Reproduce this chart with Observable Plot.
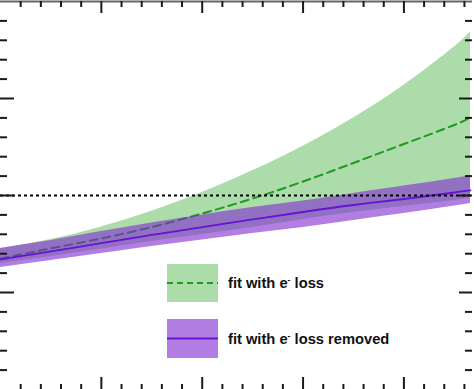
<!DOCTYPE html>
<html>
<head>
<meta charset="utf-8">
<script src="https://cdn.jsdelivr.net/npm/d3@7"></script>
<script src="https://cdn.jsdelivr.net/npm/@observablehq/plot@0.6"></script>
<style>
  html, body { margin: 0; padding: 0; background: #fff; }
  #wrap { position: relative; width: 474px; height: 389px; overflow: hidden; }
  #wrap svg { display: block; }
  .leg { position: absolute; font-family: "Liberation Sans", Arial, Helvetica, sans-serif; font-weight: bold; font-size: 14.7px; color: #111; white-space: nowrap; line-height: 1; }
  .leg sup { font-size: 0.6em; vertical-align: 0.55em; }
</style>
</head>
<body>
<div id="wrap"></div>
<script>
// x positions of the sampled curves
const xs = [0, 0.5, 1, 1.5, 2, 2.5, 3, 3.5, 4, 4.5, 4.66];
// fit with e- loss (green): central value and band
const greenMid = [1.351, 1.454, 1.557, 1.675, 1.814, 1.969, 2.144, 2.335, 2.531, 2.727, 2.809];
const greenHi  = [1.454, 1.546, 1.676, 1.837, 2.030, 2.254, 2.508, 2.799, 3.137, 3.532, 3.691];
const greenLo  = [1.299, 1.371, 1.448, 1.526, 1.598, 1.670, 1.753, 1.825, 1.887, 1.948, 1.979];
// fit with e- loss removed (purple)
const purpleMid = [1.340, 1.423, 1.510, 1.593, 1.675, 1.753, 1.830, 1.902, 1.964, 2.031, 2.052];
const purpleHi  = [1.454, 1.536, 1.629, 1.716, 1.799, 1.876, 1.943, 2.021, 2.098, 2.175, 2.206];
const purpleLo  = [1.258, 1.330, 1.402, 1.474, 1.541, 1.608, 1.670, 1.742, 1.814, 1.892, 1.918];
// reference level
const refLevel = [2];
// tick positions
const xMinorTicks = [0.2,0.4,0.6,0.8,1.2,1.4,1.6,1.8,2.2,2.4,2.6,2.8,3.2,3.4,3.6,3.8,4.2,4.4,4.6];
const xMajorTicks = [1, 2, 3, 4];
const yMinorTicks = [0.2,0.4,0.6,0.8,1.2,1.4,1.6,1.8,2.2,2.4,2.6,2.8,3.2,3.4,3.6,3.8];
const yMajorTicks = [1, 2, 3];
const legendLabels = ["fit with e", " loss", " loss removed"];

const green = xs.map((x, i) => ({x, mid: greenMid[i], hi: greenHi[i], lo: greenLo[i]}));
const purple = xs.map((x, i) => ({x, mid: purpleMid[i], hi: purpleHi[i], lo: purpleLo[i]}));

const W = 474, H = 389, mL = 0, mR = 2, mT = 1, mB = 0;
const fw = W - mL - mR, fh = H - mT - mB;
const tk = {stroke: "#1a1a1a", strokeWidth: 2};

const chart = Plot.plot({
  width: W, height: H,
  marginLeft: mL, marginRight: mR, marginTop: mT, marginBottom: mB,
  x: {domain: [0, 4.68], axis: null},
  y: {domain: [0, 4], axis: null},
  marks: [
    Plot.areaY(green, {x: "x", y1: "lo", y2: "hi", fill: "#acdcaa", curve: "natural"}),
    Plot.lineY(green, {x: "x", y: "mid", stroke: "#1f9a1f", strokeWidth: 2, strokeDasharray: "8,5", curve: "natural"}),
    Plot.areaY(purple, {x: "x", y1: "lo", y2: "hi", fill: "#8028d2", fillOpacity: 0.6, curve: "natural"}),
    Plot.lineY(purple, {x: "x", y: "mid", stroke: "#6414d2", strokeWidth: 1.8, curve: "natural"}),
    Plot.ruleY(refLevel, {y: d => d, stroke: "#000", strokeWidth: 2, strokeDasharray: "3,3"}),
    Plot.ruleY([4], {y: d => d, stroke: "#666", strokeWidth: 2}),
    // top ticks
    Plot.tickX(xMinorTicks, {x: d => d, ...tk, insetBottom: fh - 6}),
    Plot.tickX(xMajorTicks, {x: d => d, ...tk, insetBottom: fh - 12}),
    // bottom ticks
    Plot.tickX(xMinorTicks, {x: d => d, ...tk, insetTop: fh - 5}),
    Plot.tickX(xMajorTicks, {x: d => d, ...tk, insetTop: fh - 12}),
    // left ticks
    Plot.tickY(yMinorTicks, {y: d => d, ...tk, insetRight: fw - 7}),
    Plot.tickY(yMajorTicks, {y: d => d, ...tk, insetRight: fw - 14}),
    // right ticks
    Plot.tickY(yMinorTicks, {y: d => d, ...tk, insetLeft: fw - 7}),
    Plot.tickY(yMajorTicks, {y: d => d, ...tk, insetLeft: fw - 13})
  ]
});

const wrap = document.getElementById("wrap");
wrap.appendChild(chart);

// legend overlay
const leg = document.createElementNS("http://www.w3.org/2000/svg", "svg");
leg.setAttribute("width", W); leg.setAttribute("height", H);
leg.style.position = "absolute"; leg.style.left = "0"; leg.style.top = "0";
leg.innerHTML = `
  <rect x="167" y="264" width="51" height="38" fill="#acdcaa"/>
  <line x1="167" x2="218" y1="283" y2="283" stroke="#1f9a1f" stroke-width="2" stroke-dasharray="6,4"/>
  <rect x="167" y="319" width="51" height="39" fill="#8028d2" fill-opacity="0.6"/>
  <line x1="167" x2="218" y1="338.5" y2="338.5" stroke="#6414d2" stroke-width="2"/>`;
wrap.appendChild(leg);

function addLabel(top, tail) {
  const d = document.createElement("div");
  d.className = "leg";
  d.style.left = "228px";
  d.style.top = top + "px";
  d.innerHTML = legendLabels[0] + "<sup>-</sup>" + tail;
  wrap.appendChild(d);
}
addLabel(276, legendLabels[1]);
addLabel(332, legendLabels[2]);
</script>
</body>
</html>
